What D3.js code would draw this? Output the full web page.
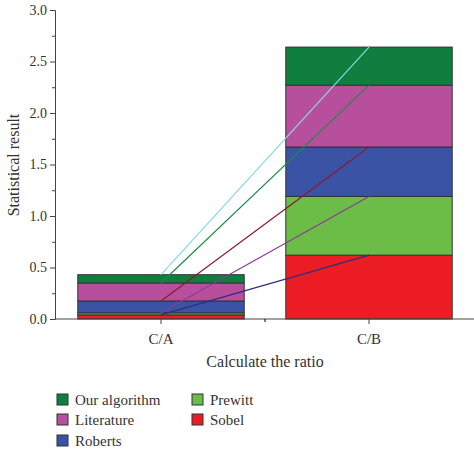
<!DOCTYPE html><html><head><script src="https://cdn.jsdelivr.net/npm/d3@7"></script>
<style>body{margin:0;background:#fff}text{font-family:"Liberation Serif",serif;fill:#333}</style></head><body>
<svg id="c" width="474" height="451"></svg>
<script>
const categories=["C/A","C/B"];
const series=["Sobel","Prewitt","Roberts","Literature","Our algorithm"];
const valuesCA=[0.04,0.02,0.115,0.175,0.08];
const valuesCB=[0.62,0.57,0.48,0.60,0.37];
const yTicks=[0,0.5,1,1.5,2,2.5,3];
const fills=["#ec1c24","#6bbd48","#3a53a4","#b74f9d","#0f7e3f"];
const lineCols=["#2c2f82","#8b3b9b","#8a1b2b","#1f8a4a","#86d8ea"];
const svg=d3.select("#c");
const y=d3.scaleLinear().domain([0,3]).range([319,10]);
const x=d3.scaleBand().domain(categories).range([57,473]).paddingInner(0.2).paddingOuter(0.1);
const vals=[valuesCA,valuesCB];
const stacks=vals.map(v=>{let c=0;return v.map(d=>{const s=[c,c+d];c+=d;return s;});});
// bars
categories.forEach((cat,i)=>{
  stacks[i].forEach((s,j)=>{
    svg.append("rect").attr("x",x(cat)).attr("width",x.bandwidth()).attr("y",y(s[1])).attr("height",y(s[0])-y(s[1]))
      .attr("fill",fills[j]).attr("stroke","#333").attr("stroke-width",1);
  });
});
// connecting lines
series.forEach((s,j)=>{
  svg.append("line").attr("x1",x("C/A")+x.bandwidth()/2).attr("y1",y(stacks[0][j][1]))
    .attr("x2",x("C/B")+x.bandwidth()/2).attr("y2",y(stacks[1][j][1]))
    .attr("stroke",lineCols[j]).attr("stroke-width",1.2);
});
// axes
const ya=svg.append("g").attr("transform","translate(55,0)").call(d3.axisLeft(y).tickValues(yTicks).tickFormat(d3.format(".1f")).tickSize(5));
svg.append("g").attr("transform","translate(55,0)").call(d3.axisLeft(y).tickValues(d3.range(0.25,3,0.5)).tickFormat("").tickSize(3)).select(".domain").remove();
ya.selectAll("text").style("font-size","14px").attr("font-family","Liberation Serif");
const xa=svg.append("g").attr("transform","translate(0,319)").call(d3.axisBottom(x).tickSize(5));
xa.select(".domain").attr("d","M55,0H474");
xa.selectAll("text").style("font-size","15px").attr("font-family","Liberation Serif").attr("dy","1.1em");
svg.append("line").attr("x1",265).attr("x2",265).attr("y1",319).attr("y2",322).attr("stroke","#000");
svg.selectAll(".domain,.tick line").attr("stroke","#444");
svg.append("text").attr("x",265).attr("y",367).attr("text-anchor","middle").style("font-size","16px").text("Calculate the ratio");
svg.append("text").attr("transform","translate(19,165) rotate(-90)").attr("text-anchor","middle").style("font-size","16px").text("Statistical result");
// legend
const leg=[["Our algorithm",4,57,400],["Prewitt",1,192,400],["Literature",3,57,420],["Sobel",0,192,420],["Roberts",2,57,441]];
leg.forEach(([t,k,lx,ly])=>{
  svg.append("rect").attr("x",lx).attr("y",ly-6).attr("width",11).attr("height",11).attr("fill",fills[k]).attr("stroke","#333");
  svg.append("text").attr("x",lx+18).attr("y",ly+5).style("font-size","15px").text(t);
});
</script></body></html>
